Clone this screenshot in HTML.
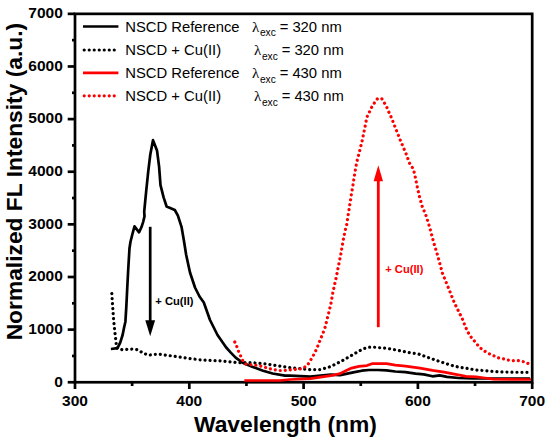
<!DOCTYPE html>
<html><head><meta charset="utf-8"><style>
html,body{margin:0;padding:0;background:#fff;}
svg{display:block;}
.tl{font:bold 15.5px "Liberation Sans",sans-serif;}
.ax{font:bold 22.8px "Liberation Sans",sans-serif;}
.lg{font:14.8px "Liberation Sans",sans-serif;}
.lam{font-family:"Liberation Serif",serif;font-size:15px;}
.cu{font:bold 11.2px "Liberation Sans",sans-serif;}
</style></head><body>
<svg width="550" height="441" viewBox="0 0 550 441">
<rect width="550" height="441" fill="#fff"/>
<rect x="75.0" y="13.85" width="457.20000000000005" height="368.4" fill="none" stroke="#000" stroke-width="2.7"/>
<line x1="67.7" y1="382.25" x2="75.0" y2="382.25" stroke="#000" stroke-width="2.7"/>
<line x1="67.7" y1="329.62" x2="75.0" y2="329.62" stroke="#000" stroke-width="2.7"/>
<line x1="67.7" y1="276.99" x2="75.0" y2="276.99" stroke="#000" stroke-width="2.7"/>
<line x1="67.7" y1="224.36" x2="75.0" y2="224.36" stroke="#000" stroke-width="2.7"/>
<line x1="67.7" y1="171.74" x2="75.0" y2="171.74" stroke="#000" stroke-width="2.7"/>
<line x1="67.7" y1="119.11" x2="75.0" y2="119.11" stroke="#000" stroke-width="2.7"/>
<line x1="67.7" y1="66.48" x2="75.0" y2="66.48" stroke="#000" stroke-width="2.7"/>
<line x1="67.7" y1="13.85" x2="75.0" y2="13.85" stroke="#000" stroke-width="2.7"/>
<line x1="72" y1="355.94" x2="75.0" y2="355.94" stroke="#000" stroke-width="2.7"/>
<line x1="72" y1="303.31" x2="75.0" y2="303.31" stroke="#000" stroke-width="2.7"/>
<line x1="72" y1="250.68" x2="75.0" y2="250.68" stroke="#000" stroke-width="2.7"/>
<line x1="72" y1="198.05" x2="75.0" y2="198.05" stroke="#000" stroke-width="2.7"/>
<line x1="72" y1="145.42" x2="75.0" y2="145.42" stroke="#000" stroke-width="2.7"/>
<line x1="72" y1="92.79" x2="75.0" y2="92.79" stroke="#000" stroke-width="2.7"/>
<line x1="72" y1="40.16" x2="75.0" y2="40.16" stroke="#000" stroke-width="2.7"/>
<line x1="75.00" y1="382.25" x2="75.00" y2="389" stroke="#000" stroke-width="2.7"/>
<line x1="189.30" y1="382.25" x2="189.30" y2="389" stroke="#000" stroke-width="2.7"/>
<line x1="303.60" y1="382.25" x2="303.60" y2="389" stroke="#000" stroke-width="2.7"/>
<line x1="417.90" y1="382.25" x2="417.90" y2="389" stroke="#000" stroke-width="2.7"/>
<line x1="532.20" y1="382.25" x2="532.20" y2="389" stroke="#000" stroke-width="2.7"/>
<line x1="132.15" y1="382.25" x2="132.15" y2="386" stroke="#000" stroke-width="2.7"/>
<line x1="246.45" y1="382.25" x2="246.45" y2="386" stroke="#000" stroke-width="2.7"/>
<line x1="360.75" y1="382.25" x2="360.75" y2="386" stroke="#000" stroke-width="2.7"/>
<line x1="475.05" y1="382.25" x2="475.05" y2="386" stroke="#000" stroke-width="2.7"/>
<polyline points="111.8,293.6 112.7,307.2 113.6,319.9 114.9,332.6 116.0,341.6 116.5,348.0 121.8,349.6 127.2,349.3 132.6,349.0 138.1,349.8 143.5,353.4 148.9,355.2 154.4,354.3 160.0,354.3 174.8,356.4 190.7,358.7 200.0,359.8 217.2,360.7 238.6,362.7 252.2,362.7 265.8,364.0 279.4,366.0 290.0,367.7 310.4,369.6 320.6,369.6 330.8,366.5 341.0,361.4 350.2,356.2 358.9,351.1 364.0,348.6 369.1,347.2 374.2,347.2 379.3,347.7 388.7,348.6 398.2,350.4 408.4,352.5 418.5,354.0 423.7,355.9 432.5,359.1 441.2,362.0 449.9,364.9 458.6,367.1 467.4,368.5 476.1,370.0 484.8,370.7 493.5,371.5 508.2,372.1 520.9,372.3 529.8,372.3" fill="none" stroke="#000" stroke-width="3.2" stroke-linecap="round" stroke-dasharray="0.01 5.0"/>
<polyline points="110.9,349.0 117.5,348.2 120.3,342.4 122.6,335.0 124.2,327.0 125.4,321.7 126.3,307.2 127.2,289.0 128.3,268.0 129.5,248.2 130.5,241.8 132.3,234.5 134.5,226.4 139.1,232.3 141.4,227.3 143.2,221.8 144.5,216.4 144.2,211.6 146.2,191.2 148.3,170.8 150.3,154.5 153.0,140.2 157.0,150.4 159.1,166.7 160.5,185.1 163.6,197.3 166.6,206.5 174.8,210.0 177.9,215.7 181.6,227.2 183.8,240.0 186.2,255.0 190.0,272.5 195.0,287.5 199.5,296.5 203.8,302.5 210.0,320.0 217.5,335.0 226.2,347.5 230.8,352.6 235.9,357.9 242.7,362.7 252.2,366.7 263.1,370.8 272.6,373.5 285.0,375.6 290.0,375.7 310.4,376.7 330.8,374.7 340.0,375.1 347.3,373.6 354.5,372.2 361.8,370.7 369.1,370.0 377.8,370.0 386.5,370.4 395.3,371.5 405.5,372.2 415.6,373.6 423.7,374.4 432.5,376.3 439.7,375.4 447.0,376.8 458.6,378.0 473.2,378.5 493.5,378.5 530.0,378.5" fill="none" stroke="#000" stroke-width="2.7" stroke-linejoin="round"/>
<polyline points="234.8,342.0 237.0,347.0 238.6,351.5 240.6,355.9 242.7,360.6 245.4,364.0 250.2,364.7 254.9,365.1 260.4,366.0 265.1,367.4 269.9,368.8 274.7,369.7 279.4,370.5 284.2,370.5 294.1,369.6 302.2,368.6 307.3,365.5 312.4,357.3 316.5,349.2 320.6,339.0 324.7,328.8 327.8,316.5 330.8,304.3 332.9,292.4 336.3,277.1 338.5,265.8 340.8,254.4 343.1,240.8 345.4,229.5 346.7,224.5 348.3,214.2 349.8,204.7 351.4,194.4 353.0,184.8 354.6,174.5 356.2,165.0 357.2,160.5 360.3,148.3 362.3,140.1 364.4,129.9 366.4,119.7 367.3,116.2 369.5,111.8 371.6,107.3 374.4,102.9 377.5,98.7 381.7,98.6 384.4,102.9 386.9,107.5 388.9,112.2 390.9,116.5 393.0,121.7 397.0,131.9 401.1,142.1 405.9,153.3 409.5,163.1 412.2,167.2 414.1,172.1 415.3,177.2 417.3,187.2 419.5,196.8 422.2,206.3 425.9,215.3 428.9,224.8 430.4,230.0 433.7,242.5 437.5,255.0 442.4,273.1 446.1,282.2 450.2,292.4 454.3,302.7 459.4,312.9 462.4,319.0 465.5,327.1 469.6,335.3 474.7,341.4 479.8,347.6 486.9,352.7 498.2,357.8 503.1,358.8 508.2,360.1 513.3,360.6 517.3,360.5 522.3,361.4 526.8,362.7 530.9,365.5" fill="none" stroke="#f00" stroke-width="3.2" stroke-linecap="round" stroke-dasharray="0.01 5.0"/>
<polyline points="244.3,380.5 280.0,380.5 290.0,379.5 310.4,378.7 330.8,375.7 340.0,373.6 345.8,370.7 351.6,368.1 358.9,366.4 366.9,365.6 372.0,363.7 376.4,363.5 386.5,363.7 395.3,365.2 405.5,366.1 412.7,367.1 420.0,368.1 432.5,370.4 444.1,372.2 455.7,374.4 465.9,376.3 476.1,376.8 484.8,378.0 493.5,379.2 531.0,379.5" fill="none" stroke="#f00" stroke-width="2.7" stroke-linejoin="round"/>
<line x1="150.2" y1="226.8" x2="150.2" y2="322" stroke="#000" stroke-width="2.7"/>
<polygon points="145.3,320.2 155.1,320.2 150.2,336.2" fill="#000"/>
<line x1="378.3" y1="180" x2="378.3" y2="327.2" stroke="#f00" stroke-width="2.8"/>
<polygon points="373.6,181.2 383,181.2 378.3,165.2" fill="#f00"/>
<line x1="83" y1="26.5" x2="118.4" y2="26.5" stroke="#000" stroke-width="2.7"/>
<line x1="84.2" y1="50.0" x2="116" y2="50.0" stroke="#000" stroke-width="3.2" stroke-linecap="round" stroke-dasharray="0.01 5.0"/>
<line x1="83" y1="72.8" x2="118.4" y2="72.8" stroke="#f00" stroke-width="2.7"/>
<line x1="84.2" y1="95.8" x2="116" y2="95.8" stroke="#f00" stroke-width="3.2" stroke-linecap="round" stroke-dasharray="0.01 5.0"/>
<text x="62.8" y="386.55" text-anchor="end" class="tl">0</text>
<text x="62.8" y="333.92" text-anchor="end" class="tl">1000</text>
<text x="62.8" y="281.29" text-anchor="end" class="tl">2000</text>
<text x="62.8" y="228.66" text-anchor="end" class="tl">3000</text>
<text x="62.8" y="176.04" text-anchor="end" class="tl">4000</text>
<text x="62.8" y="123.41" text-anchor="end" class="tl">5000</text>
<text x="62.8" y="70.78" text-anchor="end" class="tl">6000</text>
<text x="62.8" y="18.15" text-anchor="end" class="tl">7000</text>
<text x="75.00" y="405.8" text-anchor="middle" class="tl">300</text>
<text x="189.30" y="405.8" text-anchor="middle" class="tl">400</text>
<text x="303.60" y="405.8" text-anchor="middle" class="tl">500</text>
<text x="417.90" y="405.8" text-anchor="middle" class="tl">600</text>
<text x="532.20" y="405.8" text-anchor="middle" class="tl">700</text>
<text x="285.4" y="431.8" text-anchor="middle" class="ax">Wavelength (nm)</text>
<text transform="translate(22.2,181.6) rotate(-90)" text-anchor="middle" class="ax">Normalized FL Intensity (a.u.)</text>
<text x="125.3" y="31.6" class="lg">NSCD Reference</text>
<text x="252" y="31.6" class="lg"><tspan class="lam">&#955;</tspan><tspan font-size="10.2" dx="0.6" dy="4.8">exc</tspan><tspan dx="-0.2" dy="-4.8"> = 320 nm</tspan></text>
<text x="125.3" y="55.0" class="lg">NSCD + Cu(II)</text>
<text x="254" y="55.0" class="lg"><tspan class="lam">&#955;</tspan><tspan font-size="10.2" dx="0.6" dy="4.8">exc</tspan><tspan dx="-0.2" dy="-4.8"> = 320 nm</tspan></text>
<text x="125.3" y="78.1" class="lg">NSCD Reference</text>
<text x="252" y="78.1" class="lg"><tspan class="lam">&#955;</tspan><tspan font-size="10.2" dx="0.6" dy="4.8">exc</tspan><tspan dx="-0.2" dy="-4.8"> = 430 nm</tspan></text>
<text x="125.3" y="101.0" class="lg">NSCD + Cu(II)</text>
<text x="254" y="101.0" class="lg"><tspan class="lam">&#955;</tspan><tspan font-size="10.2" dx="0.6" dy="4.8">exc</tspan><tspan dx="-0.2" dy="-4.8"> = 430 nm</tspan></text>
<text x="155.3" y="305.3" class="cu">+ Cu(II)</text>
<text x="385.2" y="272.8" class="cu" fill="#f00">+ Cu(II)</text>
</svg>
</body></html>
